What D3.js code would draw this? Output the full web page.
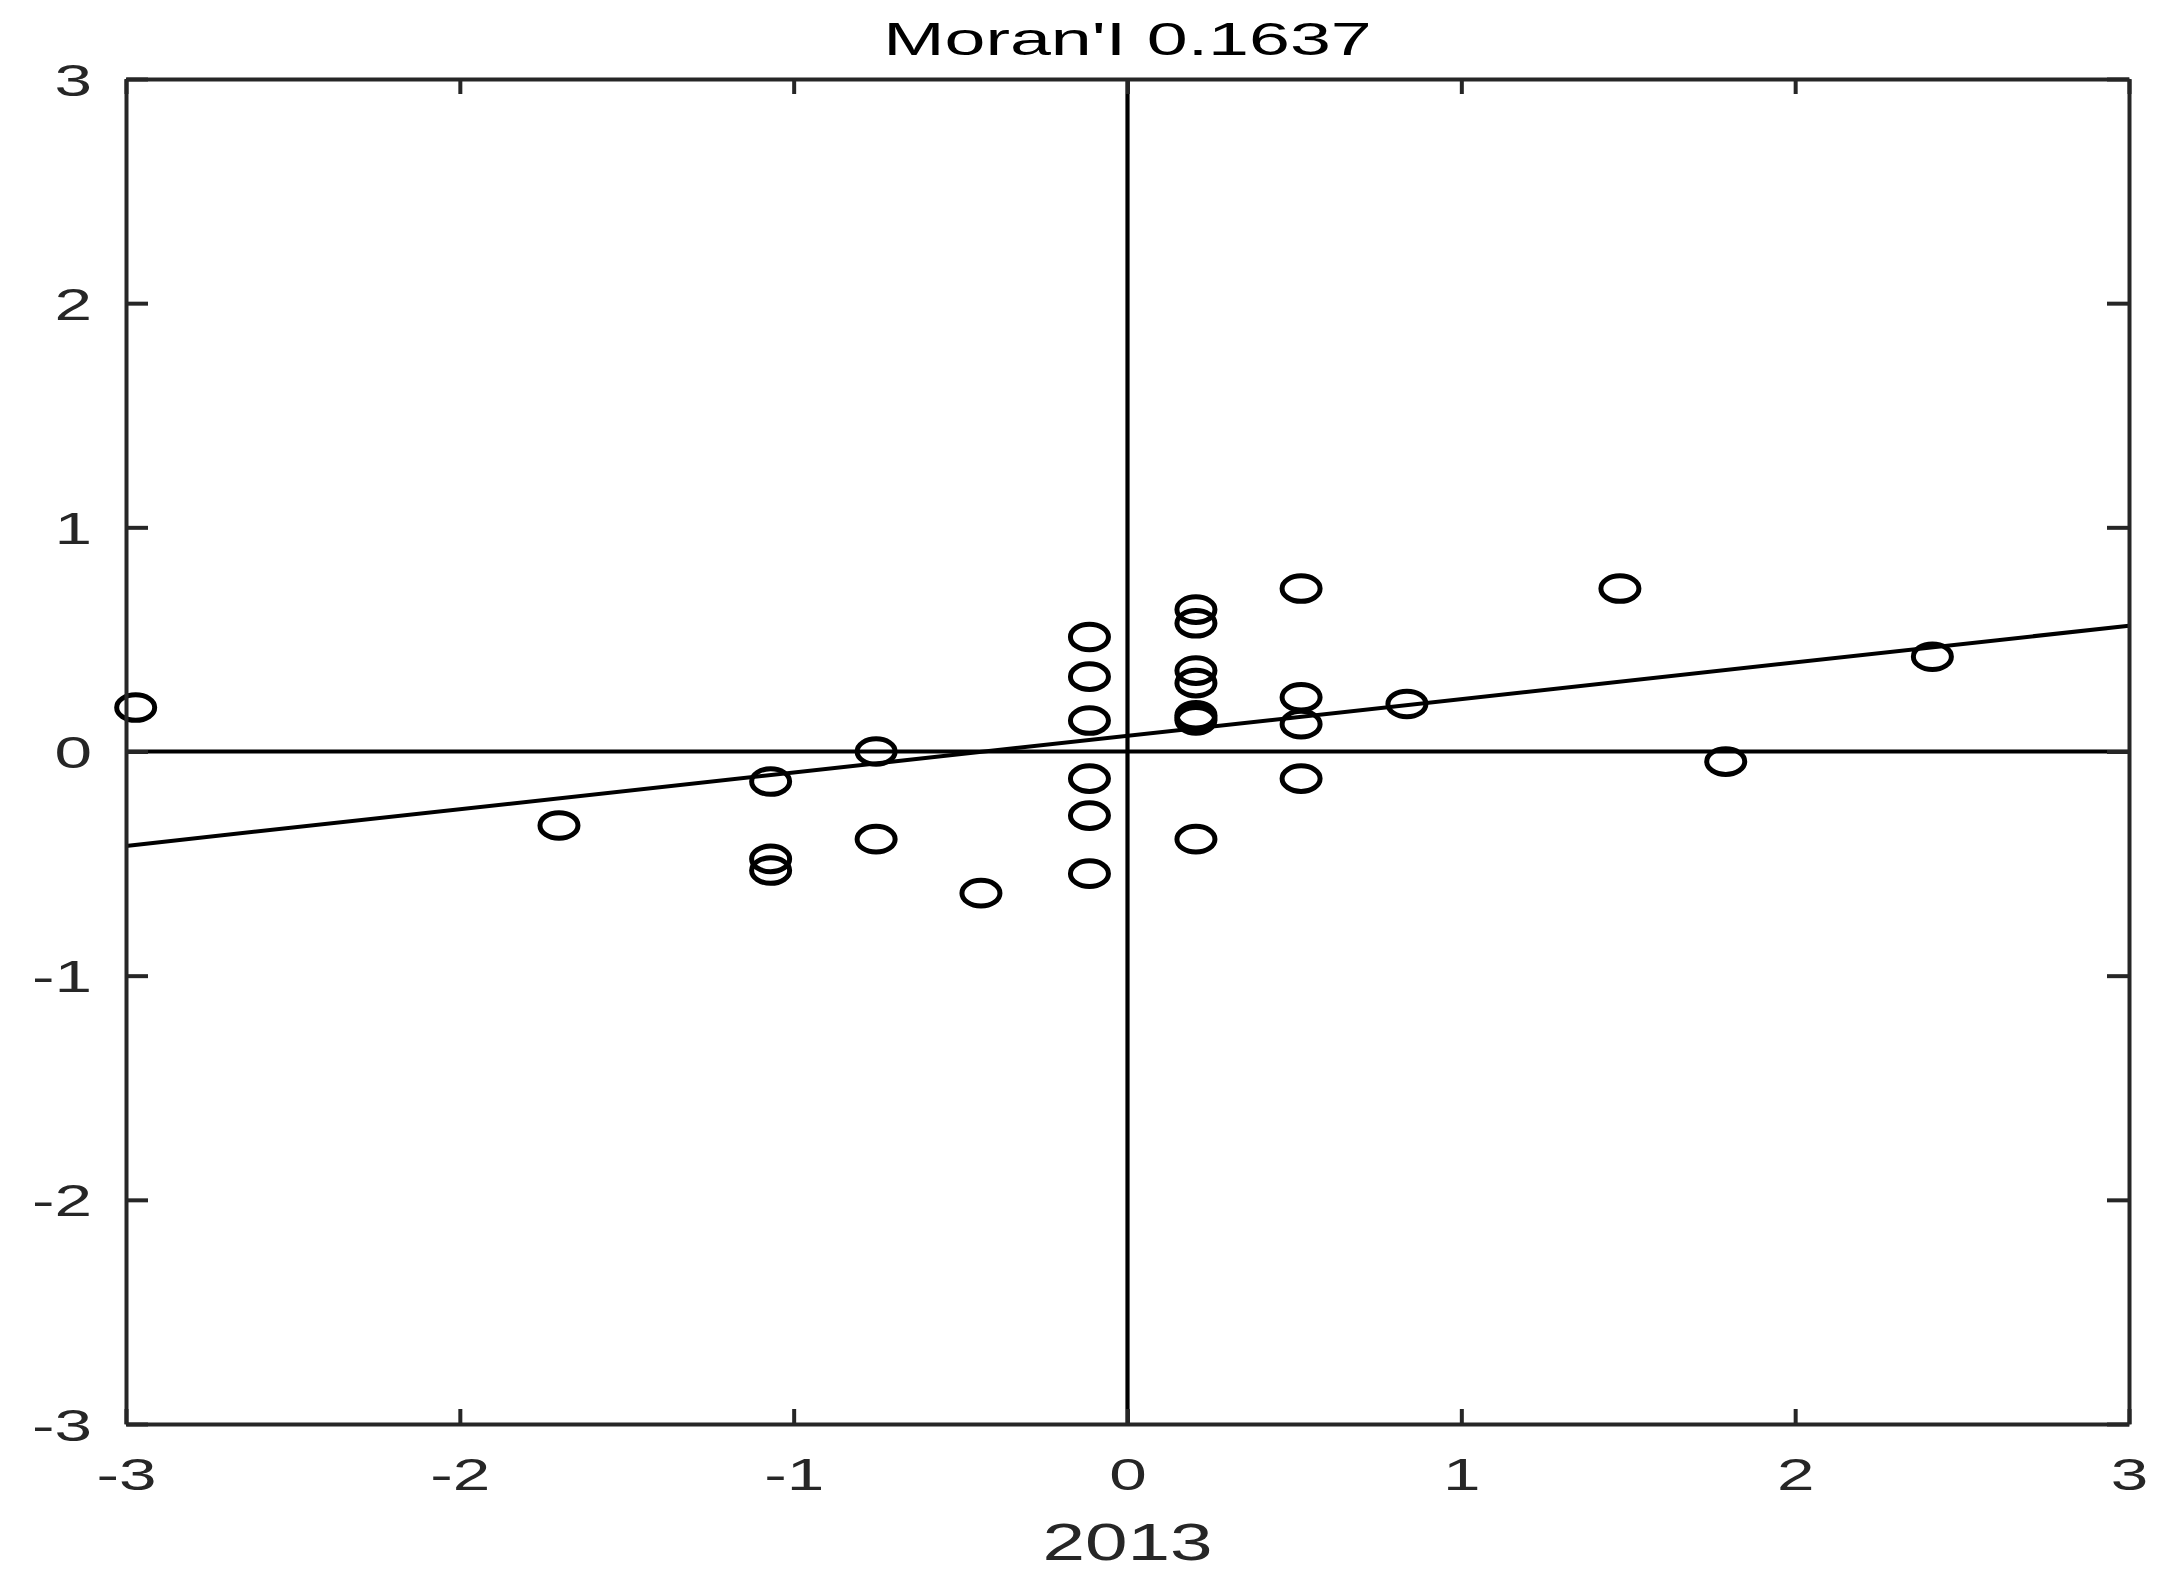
<!DOCTYPE html>
<html>
<head>
<meta charset="utf-8">
<script src="https://cdn.jsdelivr.net/npm/d3@7"></script>
<style>
  body { margin: 0; background: #fff; }
  svg { display: block; font-family: "Liberation Sans", Arial, sans-serif; }
</style>
</head>
<body>
<svg width="2182" height="1596"></svg>
<script>
// standardised values (x) and their spatial lag (y)
var xValues = [-2.971, -1.703, -1.069, -1.069, -1.069, -0.753, -0.753, -0.439,
  -0.114, -0.114, -0.114, -0.114, -0.114, -0.114,
  0.205, 0.205, 0.205, 0.205, 0.205, 0.205, 0.205, 0.205,
  0.520, 0.520, 0.520, 0.520,
  0.837, 1.475, 1.792, 2.411];
var lagValues = [0.196, -0.330, -0.134, -0.479, -0.531, 0.000, -0.391, -0.632,
  0.511, 0.334, 0.138, -0.121, -0.286, -0.545,
  0.633, 0.572, 0.361, 0.305, 0.162, 0.150, 0.139, -0.391,
  0.727, 0.242, 0.122, -0.121,
  0.212, 0.727, -0.045, 0.423];
var xTicks = [-3, -2, -1, 0, 1, 2, 3];
var yTicks = [-3, -2, -1, 0, 1, 2, 3];
var moranI = 0.1637;
var fitIntercept = 0.07;
var titleText = "Moran'I " + moranI;
var xLabel = "2013";

var svg = d3.select("svg"),
  margin = {top: 79, right: 53, bottom: 172, left: 126},
  width = +svg.attr("width") - margin.left - margin.right,
  height = +svg.attr("height") - margin.top - margin.bottom;

var stretch = 1.5; // the figure is wider than its fonts
var ink = "#262626";

var x = d3.scaleLinear().domain([-3, 3]).range([0, width]),
  y = d3.scaleLinear().domain([-3, 3]).range([height, 0]);

var g = svg.append("g")
  .attr("transform", "translate(" + margin.left + "," + margin.top + ")");

// zero lines
g.append("line")
  .attr("x1", x(0)).attr("x2", x(0))
  .attr("y1", 0).attr("y2", height)
  .attr("stroke", "#000").attr("stroke-width", 4.2);
g.append("line")
  .attr("x1", 0).attr("x2", width)
  .attr("y1", y(0)).attr("y2", y(0))
  .attr("stroke", "#000").attr("stroke-width", 4.2);

// fitted line, slope = Moran's I
g.append("line")
  .attr("x1", x(-3)).attr("y1", y(fitIntercept + moranI * -3))
  .attr("x2", x(3)).attr("y2", y(fitIntercept + moranI * 3))
  .attr("stroke", "#000").attr("stroke-width", 4);

// markers
g.selectAll(null)
  .data(xValues)
  .enter()
  .append("ellipse")
  .attr("cx", function(d) { return x(d); })
  .attr("cy", function(d, i) { return y(lagValues[i]); })
  .attr("rx", 19)
  .attr("ry", 12.8)
  .attr("fill", "none")
  .attr("stroke", "#000")
  .attr("stroke-width", 5);

// axes (ticks point inward)
function styleAxis(sel) {
  sel.select(".domain").attr("stroke", ink).attr("stroke-width", 4);
  sel.selectAll(".tick line").attr("stroke", ink).attr("stroke-width", 4);
}

var bottomAxis = g.append("g")
  .attr("transform", "translate(0," + height + ")")
  .call(d3.axisBottom(x).tickValues(xTicks).tickSizeInner(-15).tickSizeOuter(0));
bottomAxis.call(styleAxis);
bottomAxis.selectAll(".tick text")
  .attr("y", 66).attr("dy", null)
  .attr("font-size", 45).attr("fill", ink)
  .attr("transform", "scale(" + stretch + ",1)")
  .text(function(d) { return d < 0 ? "-" + (-d) : d; });

var leftAxis = g.append("g")
  .call(d3.axisLeft(y).tickValues(yTicks).tickSizeInner(-22).tickSizeOuter(0));
leftAxis.call(styleAxis);
leftAxis.selectAll(".tick text")
  .attr("x", -34 / stretch).attr("dy", null).attr("y", 16)
  .attr("font-size", 45).attr("fill", ink)
  .attr("transform", "scale(" + stretch + ",1)")
  .text(function(d) { return d < 0 ? "-" + (-d) : d; });

var topAxis = g.append("g")
  .call(d3.axisTop(x).tickValues(xTicks).tickSizeInner(-15).tickSizeOuter(0).tickFormat(""));
topAxis.call(styleAxis);

var rightAxis = g.append("g")
  .attr("transform", "translate(" + width + ",0)")
  .call(d3.axisRight(y).tickValues(yTicks).tickSizeInner(-22).tickSizeOuter(0).tickFormat(""));
rightAxis.call(styleAxis);

// title and x label
svg.append("text")
  .attr("transform", "translate(" + (margin.left + width / 2) + ",55) scale(1.6,1)")
  .attr("text-anchor", "middle")
  .attr("font-size", 46)
  .attr("fill", "#000")
  .text(titleText);

svg.append("text")
  .attr("transform", "translate(" + (margin.left + width / 2) + ",1560) scale(" + stretch + ",1)")
  .attr("text-anchor", "middle")
  .attr("font-size", 51)
  .attr("fill", ink)
  .text(xLabel);
</script>
</body>
</html>
